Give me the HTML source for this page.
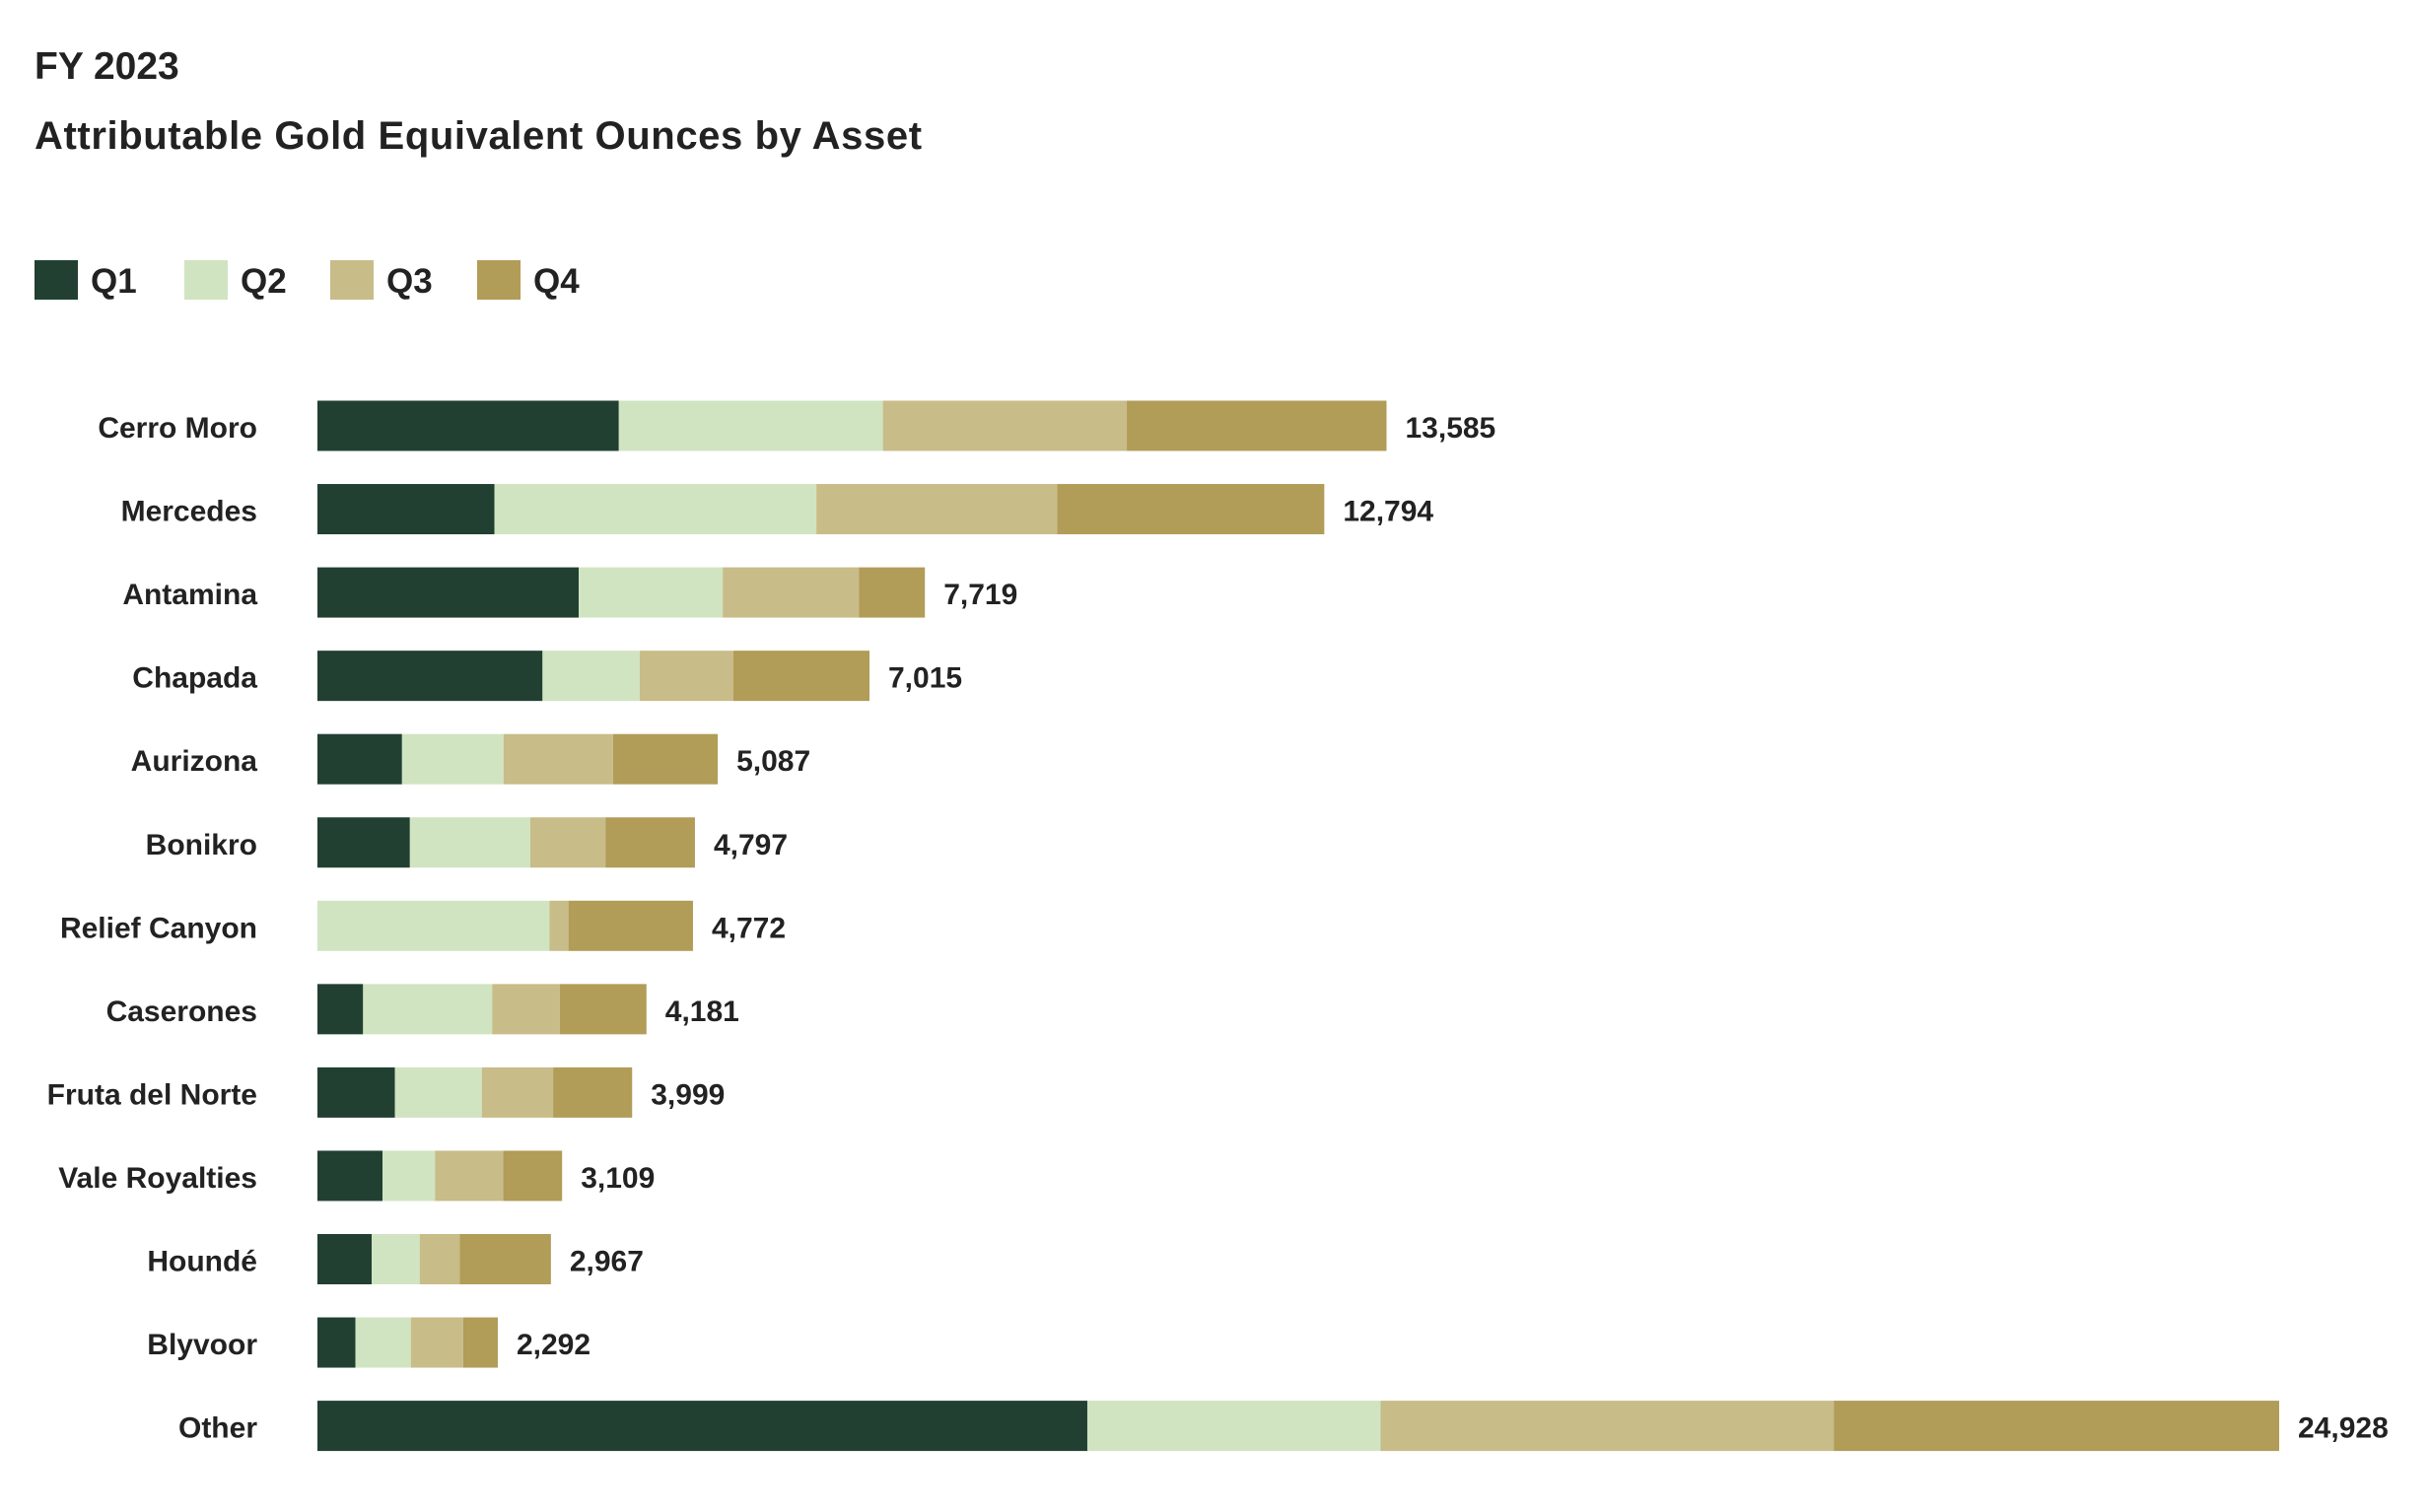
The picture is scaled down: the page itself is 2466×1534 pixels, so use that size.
<!DOCTYPE html>
<html><head><meta charset="utf-8"><style>
html,body{margin:0;padding:0;background:#fff;}
body{width:2466px;height:1534px;overflow:hidden;position:relative;font-family:"Liberation Sans",sans-serif;color:#222;}
.t{position:absolute;left:35px;font-weight:bold;}
</style></head><body>
<div class="t" style="top:46px;font-size:39px;">FY 2023</div>
<div class="t" style="top:116px;font-size:40px;letter-spacing:0.6px;">Attributable Gold Equivalent Ounces by Asset</div>
<svg id="chart" width="2466" height="1534" style="position:absolute;left:0;top:0"></svg>
<script>
const categories=["Cerro Moro","Mercedes","Antamina","Chapada","Aurizona","Bonikro","Relief Canyon","Caserones","Fruta del Norte","Vale Royalties","Houndé","Blyvoor","Other"];
const seriesNames=["Q1","Q2","Q3","Q4"];
const q1=[3830,2250,3320,2860,1075,1175,0,580,985,828,690,483,9783];
const q2=[3355,4090,1830,1235,1290,1530,2950,1640,1105,666,610,704,3727];
const q3=[3100,3060,1730,1190,1392,955,240,860,905,868,508,665,5758];
const q4=[3300,3394,839,1730,1330,1137,1582,1101,1004,747,1159,440,5660];
const totals=["13,585","12,794","7,719","7,015","5,087","4,797","4,772","4,181","3,999","3,109","2,967","2,292","24,928"];
const colors=["#214032","#d0e4c1","#c8bc88","#b19c58"];
const svg=document.getElementById('chart');
const NS="http://www.w3.org/2000/svg";
const x0=322, pxPerUnit=(2312-322)/24928;
const xs=v=>x0+v*pxPerUnit;
const rowY=i=>432+i*84.55;
const barH=51;
function mk(t,a){const e=document.createElementNS(NS,t);for(const k in a)e.setAttribute(k,a[k]);svg.appendChild(e);return e;}
const legX=[35,187,335,484];
seriesNames.forEach((s,j)=>{
  const r=mk('rect',{x:legX[j],y:264,width:44,height:40,fill:colors[j]});
  
  
  const t=mk('text',{x:legX[j]+57,y:297,'font-size':35,'font-weight':'bold',fill:'#222'});
  t.textContent=s;
  
  
});
const series=[q1,q2,q3,q4];
categories.forEach((c,i)=>{
  const cy=rowY(i);
  const lbl=mk('text',{x:261,y:cy+12,'text-anchor':'end','font-size':30,'font-weight':'bold',fill:'#222'});
  lbl.textContent=c;
  
  
  let acc=0;
  series.forEach((s,j)=>{
    const v=s[i];
    if(v>0){
      const r=mk('rect',{x:xs(acc),y:cy-barH/2,width:xs(acc+v)-xs(acc),height:barH,fill:colors[j]});
      
      
    }
    acc+=v;
  });
  const vt=mk('text',{x:xs(acc)+19,y:cy+12,'font-size':30,'font-weight':'bold',fill:'#222'});
  vt.textContent=totals[i];
  
  
});
</script>
</body></html>
